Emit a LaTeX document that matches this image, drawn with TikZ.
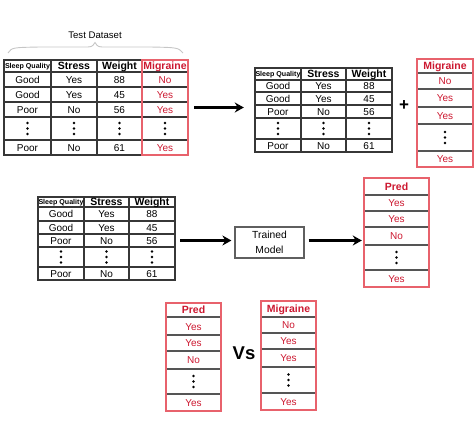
\documentclass[tikz,border=0pt]{standalone}
\usepackage{fontspec}
\setmainfont{Liberation Sans}
\usetikzlibrary{arrows.meta, positioning, fit}
\definecolor{migred}{RGB}{204,24,48}
\definecolor{boxred}{RGB}{232,98,108}
\definecolor{gridgray}{RGB}{55,55,55}

\begin{document}
\begin{tikzpicture}[x=1pt, y=-1pt,
  cell/.style={font=\fontsize{10}{12}\selectfont, inner sep=0pt, text height=7.2pt, text depth=0pt},
  head/.style={font=\bfseries\fontsize{10.5}{12}\selectfont, inner sep=0pt, text height=7.5pt, text depth=0pt},
  smallhead/.style={font=\bfseries\fontsize{7.1}{8}\selectfont, inner sep=0pt, text height=5.1pt, text depth=0pt},
  redcell/.style={cell, text=migred},
  redhead/.style={head, text=migred},
  grid/.style={draw=gridgray, line width=1.2pt},
  rowline/.style={draw=gridgray!85, line width=1.1pt},
  redgrid/.style={draw=boxred, line width=1.2pt},
  tablebox/.style={inner sep=0pt},
  arrow/.style={-{Stealth[length=9pt, width=10pt]}, line width=2.2pt}]
  \useasboundingbox (0,0) rectangle (474,423);

  % Test dataset with labels
  \draw[draw=gray!45, line width=0.9pt] (8,53) .. controls (12,47.5) .. (40,47) -- (84,47)
    .. controls (92,47) .. (95,42.5) .. controls (98,47) .. (106,47) -- (150,47) .. controls (178,47.5) .. (183,53);
  \node[font=\fontsize{9.6}{11}\selectfont] (title) at (95,35) {Test Dataset};
  \draw[grid] (4,60) rectangle (142,155);
  \foreach \x in {51,97} \draw[grid] (\x,60) -- (\x,155);
  \foreach \y in {72,87,102,117,140} \draw[grid] (4,\y) -- (188,\y);
  \draw[redgrid] (142,60) rectangle (188,155);
  \node[smallhead] (tq) at (27.5,66) {Sleep Quality};
  \node[head] (ts) at (74,66) {Stress};
  \node[head] (tw) at (119.5,66) {Weight};
  \node[redhead] (tm) at (165,66) {Migraine};
  \foreach \q/\s/\w/\m/\y [count=\r] in {Good/Yes/88/No/79.5, Good/Yes/45/Yes/94.5, Poor/No/56/Yes/109.5, Poor/No/61/Yes/147.5} {
    \node[cell] (tq\r) at (27.5,\y) {\q};
    \node[cell] (ts\r) at (74,\y) {\s};
    \node[cell] (tw\r) at (119.5,\y) {\w};
    \node[redcell] (tm\r) at (165,\y) {\m};
  }
  \foreach \x in {27.5,74,119.5,165} \foreach \d in {-5.5,0,5.5} \fill (\x,{128.5+\d}) circle[radius=1.4pt];
  \node[tablebox, fit={(4,60) (188,155)}] (testset) {};

  % Features only
  \draw[grid] (255,68) rectangle (392,152);
  \foreach \x in {301,346} \draw[grid] (\x,68) -- (\x,152);
  \foreach \y in {80,92,105,118,139} \draw[grid] (255,\y) -- (392,\y);
  \node[smallhead] (fq) at (278,74) {Sleep Quality};
  \node[head] (fs) at (323.5,74) {Stress};
  \node[head] (fw) at (369,74) {Weight};
  \foreach \q/\s/\w/\y [count=\r] in {Good/Yes/88/86, Good/Yes/45/98.5, Poor/No/56/111.5, Poor/No/61/145.5} {
    \node[cell] (fq\r) at (278,\y) {\q};
    \node[cell] (fs\r) at (323.5,\y) {\s};
    \node[cell] (fw\r) at (369,\y) {\w};
  }
  \foreach \x in {278,323.5,369} \foreach \d in {-5.5,0,5.5} \fill (\x,{128.5+\d}) circle[radius=1.4pt];
  \node[tablebox, fit={(255,68) (392,152)}] (features) {};

  \node[font=\bfseries\fontsize{17}{17}\selectfont] (plus) at (404,106) {+};

  % Labels only
  \foreach \y in {73,89,107,124,151} \draw[rowline] (417,\y) -- (473,\y);
  \draw[redgrid] (417,59) rectangle (473,167);
  \node[redhead] (lh) at (445,66) {Migraine};
  \foreach \t/\y [count=\r] in {No/81, Yes/98, Yes/115.5, Yes/159} \node[redcell] (l\r) at (445,\y) {\t};
  \foreach \d in {-5.5,0,5.5} \fill (445,{137.5+\d}) circle[radius=1.4pt];

  \draw[arrow] ([xshift=6pt]testset.east) -- ([xshift=-11pt]testset.east -| features.west);

  % Inputs to the model
  \draw[grid] (38,197) rectangle (175,280);
  \foreach \x in {84,129} \draw[grid] (\x,197) -- (\x,280);
  \foreach \y in {207,221,234,247,267} \draw[grid] (38,\y) -- (175,\y);
  \node[smallhead] (iq) at (61,202) {Sleep Quality};
  \node[head] (is) at (106.5,202) {Stress};
  \node[head] (iw) at (152,202) {Weight};
  \foreach \q/\s/\w/\y [count=\r] in {Good/Yes/88/214, Good/Yes/45/227.5, Poor/No/56/240.5, Poor/No/61/273.5} {
    \node[cell] (iq\r) at (61,\y) {\q};
    \node[cell] (is\r) at (106.5,\y) {\s};
    \node[cell] (iw\r) at (152,\y) {\w};
  }
  \foreach \x in {61,106.5,152} \foreach \d in {-5.5,0,5.5} \fill (\x,{257+\d}) circle[radius=1.4pt];
  \node[tablebox, fit={(38,197) (175,280)}] (inputs) {};

  \node[draw=gridgray!80, line width=1.2pt, minimum width=69pt, minimum height=31pt, inner sep=0pt,
        align=center, font=\fontsize{10.3}{15}\selectfont] (model) at (269.5,242.5) {Trained\\Model};

  % Predictions
  \foreach \y in {195,211,227,245,270} \draw[rowline] (364,\y) -- (429,\y);
  \draw[redgrid] (364,178) rectangle (429,287);
  \node[redhead] (ph) at (396.5,186.5) {Pred};
  \foreach \t/\y [count=\r] in {Yes/203, Yes/219, No/236, Yes/278.5} \node[redcell] (p\r) at (396.5,\y) {\t};
  \foreach \d in {-5.5,0,5.5} \fill (396.5,{257.5+\d}) circle[radius=1.4pt];
  \node[tablebox, fit={(364,178) (429,287)}] (pred) {};

  \draw[arrow] ([shift={(5,2)}]inputs.east) -- ([shift={(-3,2)}]inputs.east -| model.west);
  \draw[arrow] ([shift={(4,-2)}]model.east) -- ([shift={(-2,-2)}]model.east -| pred.west);

  % Comparison
  \foreach \y in {317,335,351,369,394} \draw[rowline] (166,\y) -- (221,\y);
  \draw[redgrid] (166,303) rectangle (221,411);
  \node[redhead] (qh) at (193.5,310) {Pred};
  \foreach \t/\y [count=\r] in {Yes/326.5, Yes/343, No/360, Yes/402.5} \node[redcell] (q\r) at (193.5,\y) {\t};
  \foreach \d in {-5.5,0,5.5} \fill (193.5,{381.5+\d}) circle[radius=1.4pt];

  \node[font=\bfseries\fontsize{18.5}{18.5}\selectfont] (vs) at (244,353) {Vs};

  \foreach \y in {317,333,349,367,393} \draw[rowline] (261,\y) -- (316,\y);
  \draw[redgrid] (261,301) rectangle (316,410);
  \node[redhead] (mh) at (288.5,309) {Migraine};
  \foreach \t/\y [count=\r] in {No/325, Yes/341, Yes/358, Yes/401.5} \node[redcell] (m\r) at (288.5,\y) {\t};
  \foreach \d in {-5.5,0,5.5} \fill (288.5,{380+\d}) circle[radius=1.4pt];
\end{tikzpicture}
\end{document}
